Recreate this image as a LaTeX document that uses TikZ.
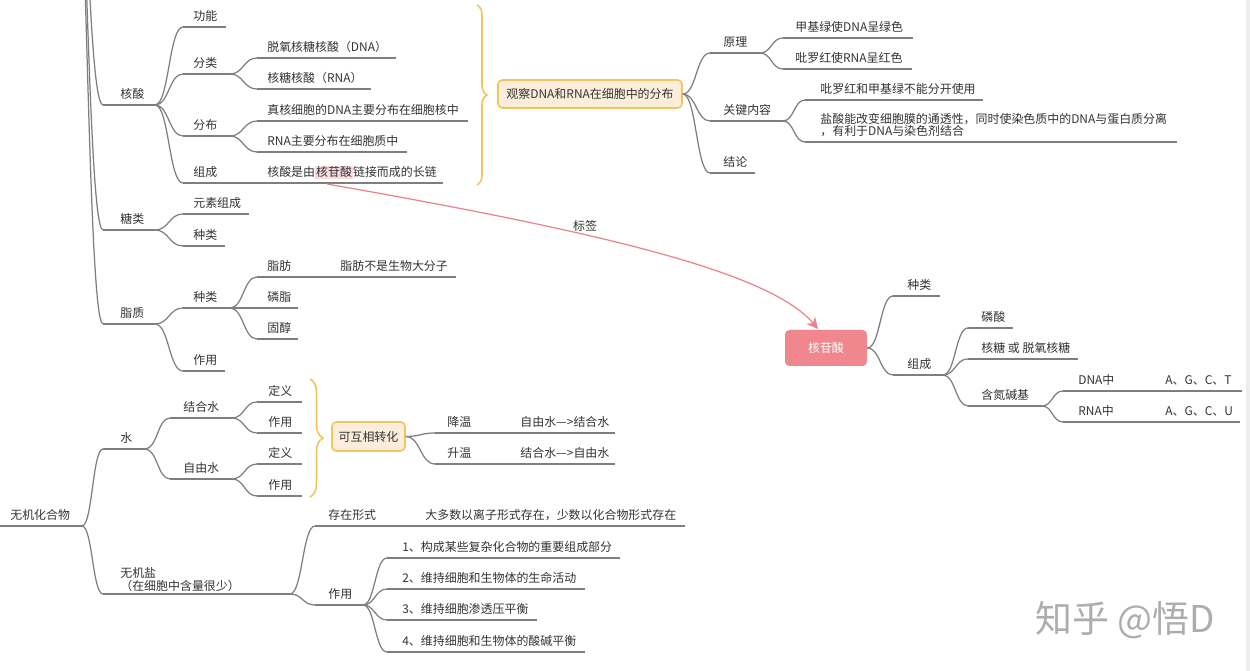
\documentclass[tikz,border=0pt]{standalone}
\usepackage{fontspec}
\setmainfont{Noto Sans CJK SC}
\usetikzlibrary{calc,decorations.pathreplacing,arrows.meta}
\definecolor{txt}{HTML}{333333}
\definecolor{lnc}{HTML}{7E7E7E}
\definecolor{brc}{HTML}{F3C45E}
\definecolor{yfill}{HTML}{FCEEDB}
\definecolor{nucfill}{HTML}{F0868E}
\definecolor{arrc}{HTML}{E8848C}
\definecolor{hl}{HTML}{F9DCE2}
\definecolor{wm}{HTML}{ADADAD}
\newcommand\fs{\fontsize{6.8pt}{7.2pt}\selectfont}
\newcommand\ULn[4]{\coordinate (#1s) at (#2,#4); \coordinate (#1e) at (#3,#4); \draw[cline] (#1s) -- (#1e);}
\newcommand\Cnx[2]{\draw[cline] let \p1=(#1), \p2=(#2) in (\p1) .. controls ({0.5*\x1+0.5*\x2},\y1) and ({0.5*\x1+0.5*\x2},\y2) .. (\p2);}
\newcommand\Tx[4]{\node[lbl] (#1) at (#2,{#3-6.2}) {#4};}
\tikzset{
  cline/.style={draw=lnc, line width=0.7pt},
  lbl/.style={anchor=base west, inner sep=0pt, text=txt, font=\fs},
  mlbl/.style={anchor=south west, inner sep=0pt, text=txt, font=\fs, align=left},
  ybox/.style={draw=brc, fill=yfill, line width=0.9pt, rounded corners=2.5pt, text=txt, font=\fs, inner sep=0pt},
  nbox/.style={fill=nucfill, rounded corners=2.5pt, text=white, font=\fs, inner sep=0pt, minimum width=1.64cm, minimum height=0.72cm},
  bracestyle/.style={draw=brc, line width=0.9pt, decorate},
  arr/.style={draw=arrc, line width=0.7pt, -{Stealth[length=6.5pt,width=6.5pt]}}
}
\begin{document}
\begin{tikzpicture}[x=0.02cm,y=-0.02cm]
\useasboundingbox (0,0) rectangle (1250,671);
\fill[white] (0,0) rectangle (1250,671);
\clip (0,0) rectangle (1250,671);
\fill[black!7] (1246,0) rectangle (1250,671);

% ---------- upper-left tree (root off the picture) ----------
\coordinate (root) at (70,-250);
\ULn{hs}{103}{155}{105}
\ULn{ts}{103}{155}{230}
\ULn{zz}{103}{155}{324}
\Cnx{root}{hss} \Cnx{root}{tss} \Cnx{root}{zzs}
\Tx{t-hs}{120}{105}{核酸}
\Tx{t-ts}{120}{230}{糖类}
\Tx{t-zz}{120}{324}{脂质}

% 核酸
\ULn{gn}{183}{226}{27}
\ULn{fl}{183}{230}{74}
\ULn{dna}{257}{396}{58}
\ULn{rna}{257}{371}{89}
\ULn{fb}{183}{230}{136}
\ULn{fba}{257}{468}{121}
\ULn{fbb}{257}{407}{152}
\ULn{zc}{183}{443}{183}
\Cnx{hse}{gns} \Cnx{hse}{fls} \Cnx{hse}{fbs} \Cnx{hse}{zcs}
\Cnx{fle}{dnas} \Cnx{fle}{rnas}
\Cnx{fbe}{fbas} \Cnx{fbe}{fbbs}
\Tx{t-gn}{193}{27}{功能}
\Tx{t-fl}{193}{74}{分类}
\Tx{t-dna}{267}{58}{脱氧核糖核酸（DNA）}
\Tx{t-rna}{267}{89}{核糖核酸（RNA）}
\Tx{t-fb}{193}{136}{分布}
\Tx{t-fba}{267}{121}{真核细胞的DNA主要分布在细胞核中}
\Tx{t-fbb}{267}{152}{RNA主要分布在细胞质中}
\Tx{t-zc}{193}{183}{组成}
\Tx{t-zc2}{267}{183}{核酸是由{\setlength\fboxsep{0.6pt}\colorbox{hl}{核苷酸}}链接而成的长链}

% 糖类
\ULn{ys}{183}{249}{214}
\ULn{zl}{183}{225}{246}
\Cnx{tse}{yss} \Cnx{tse}{zls}
\Tx{t-ys}{193}{214}{元素组成}
\Tx{t-zl}{193}{246}{种类}

% 脂质
\ULn{zlb}{183}{230}{308}
\ULn{zf}{257}{456}{277}
\ULn{lz}{257}{298}{308}
\ULn{gc}{257}{298}{339}
\ULn{zy}{183}{225}{371}
\Cnx{zze}{zlbs} \Cnx{zze}{zys}
\Cnx{zlbe}{zfs} \Cnx{zlbe}{lzs} \Cnx{zlbe}{gcs}
\Tx{t-zlb}{193}{308}{种类}
\Tx{t-zf}{267}{277}{脂肪}
\Tx{t-zf2}{340}{277}{脂肪不是生物大分子}
\Tx{t-lz}{267}{308}{磷脂}
\Tx{t-gc}{267}{339}{固醇}
\Tx{t-zy}{193}{371}{作用}

% brace + 观察 box
\coordinate (b1t) at (477,5);
\coordinate (b1b) at (477,185);
\draw[bracestyle, decoration={brace, amplitude=0.2cm}] (b1t) -- (b1b);
\node[ybox, minimum width=3.68cm, minimum height=0.56cm] (obs) at (590,94) {观察DNA和RNA在细胞中的分布};
\ULn{yl}{710}{760}{53}
\ULn{yla}{783}{913}{38}
\ULn{ylb}{783}{912}{69}
\ULn{gj}{710}{783}{121}
\ULn{gja}{805}{983}{100}
\ULn{gjb}{805}{1177}{142}
\ULn{jl}{710}{755}{173}
\Cnx{obs.east}{yls} \Cnx{obs.east}{gjs} \Cnx{obs.east}{jls}
\Cnx{yle}{ylas} \Cnx{yle}{ylbs}
\Cnx{gje}{gjas} \Cnx{gje}{gjbs}
\Tx{t-yl}{723}{53}{原理}
\Tx{t-yla}{795}{38}{甲基绿使DNA呈绿色}
\Tx{t-ylb}{795}{69}{吡罗红使RNA呈红色}
\Tx{t-gj}{723}{121}{关键内容}
\Tx{t-gja}{820}{100}{吡罗红和甲基绿不能分开使用}
\node[mlbl] (t-gjb) at (820,137.5) {盐酸能改变细胞膜的通透性，同时使染色质中的DNA与蛋白质分离\\，有利于DNA与染色剂结合};
\Tx{t-jl}{723}{173}{结论}

% 核苷酸
\node[nbox] (nuc) at (826,348) {核苷酸};
\coordinate (arrS) at (327,184);
\coordinate (arrE) at (818,329);
\draw[arr] (arrS) .. controls (600,232) and (770,272) .. (arrE);
\node[lbl, anchor=center] (tag) at (585,226) {标签};
\ULn{nz}{893}{940}{296}
\ULn{nc}{893}{943}{375}
\ULn{ls}{968}{1013}{328}
\ULn{ht}{968}{1078}{359}
\ULn{jj}{968}{1042}{406}
\ULn{dz}{1063}{1242}{391}
\ULn{rz}{1063}{1240}{422}
\Cnx{nuc.east}{nzs} \Cnx{nuc.east}{ncs}
\Cnx{nce}{lss} \Cnx{nce}{hts} \Cnx{nce}{jjs}
\Cnx{jje}{dzs} \Cnx{jje}{rzs}
\Tx{t-nz}{907}{296}{种类}
\Tx{t-nc}{907}{375}{组成}
\Tx{t-ls}{981}{328}{磷酸}
\Tx{t-ht}{981}{359}{核糖 或 脱氧核糖}
\Tx{t-jj}{981}{406}{含氮碱基}
\Tx{t-dz}{1078}{391}{DNA中}
\Tx{t-dz2}{1165}{391}{A、G、C、T}
\Tx{t-rz}{1078}{422}{RNA中}
\Tx{t-rz2}{1165}{422}{A、G、C、U}

% ---------- 无机化合物 ----------
\ULn{wj}{0}{82}{526}
\ULn{sh}{103}{145}{449}
\ULn{jh}{170}{232}{418}
\ULn{jha}{257}{302}{402}
\ULn{jhb}{257}{302}{433}
\ULn{zs}{170}{232}{479}
\ULn{zsa}{257}{302}{464}
\ULn{zsb}{257}{302}{496}
\ULn{wjy}{103}{290}{594}
\Cnx{wje}{shs} \Cnx{wje}{wjys}
\Cnx{she}{jhs} \Cnx{she}{zss}
\Cnx{jhe}{jhas} \Cnx{jhe}{jhbs}
\Cnx{zse}{zsas} \Cnx{zse}{zsbs}
\Tx{t-wj}{10}{526}{无机化合物}
\Tx{t-sh}{120}{449}{水}
\Tx{t-jh}{183}{418}{结合水}
\Tx{t-jha}{268}{402}{定义}
\Tx{t-jhb}{268}{433}{作用}
\Tx{t-zs}{183}{479}{自由水}
\Tx{t-zsa}{268}{464}{定义}
\Tx{t-zsb}{268}{496}{作用}

\coordinate (b2t) at (310,379);
\coordinate (b2b) at (310,497);
\draw[bracestyle, decoration={brace, amplitude=0.26cm}] (b2t) -- (b2b);
\node[ybox, minimum width=1.46cm, minimum height=0.58cm] (kh) at (368.5,436.5) {可互相转化};
\ULn{jw}{435}{615}{433}
\ULn{sw}{435}{615}{464}
\Cnx{kh.east}{jws} \Cnx{kh.east}{sws}
\Tx{t-jw}{447}{433}{降温}
\Tx{t-jw2}{520}{433}{自由水—>结合水}
\Tx{t-sw}{447}{464}{升温}
\Tx{t-sw2}{520}{464}{结合水—>自由水}

\ULn{cz}{315}{685}{526}
\ULn{zo}{315}{363}{605}
\ULn{ia}{387}{620}{558}
\ULn{ib}{387}{585}{589}
\ULn{ic}{387}{537}{620}
\ULn{id}{387}{585}{652}
\Cnx{wjye}{czs} \Cnx{wjye}{zos}
\Cnx{zoe}{ias} \Cnx{zoe}{ibs} \Cnx{zoe}{ics} \Cnx{zoe}{ids}
\node[mlbl] (t-wjy) at (120,591.5) {无机盐\\（在细胞中含量很少）};
\Tx{t-cz}{328}{526}{存在形式}
\Tx{t-cz2}{425}{526}{大多数以离子形式存在，少数以化合物形式存在}
\Tx{t-zo}{328}{605}{作用}
\Tx{t-ia}{402}{558}{1、构成某些复杂化合物的重要组成部分}
\Tx{t-ib}{402}{589}{2、维持细胞和生物体的生命活动}
\Tx{t-ic}{402}{620}{3、维持细胞渗透压平衡}
\Tx{t-id}{402}{652}{4、维持细胞和生物体的酸碱平衡}

% watermark
\node[inner sep=0pt, text=wm, font=\fontsize{21pt}{24pt}\selectfont] (wmk) at (1125,620) {知乎 @悟D};
\end{tikzpicture}
\end{document}
